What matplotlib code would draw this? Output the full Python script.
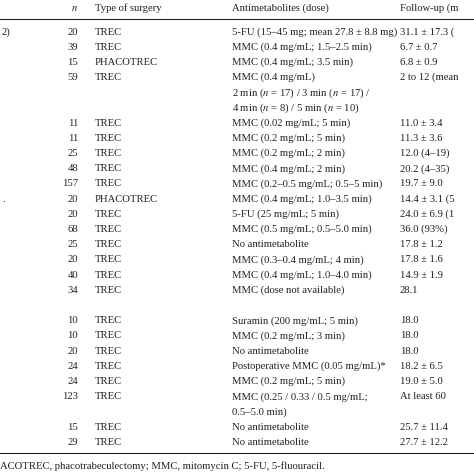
import matplotlib
matplotlib.use("Agg")
import matplotlib.pyplot as plt

# table content (cropped view of a published table)
lead = ["2)", "", "", "", "", "", "", "", "", "", "", ".", "", "", "", "", "", "", "",
        "", "", "", "", "", "", "", "", ""]
n_vals = ["20", "39", "15", "59", "", "", "11", "11", "25", "48", "157", "20", "20", "68",
          "25", "20", "40", "34", "", "10", "10", "20", "24", "24", "123", "", "15", "29"]
surgery = ["TREC", "TREC", "PHACOTREC", "TREC", "", "", "TREC", "TREC", "TREC", "TREC",
           "TREC", "PHACOTREC", "TREC", "TREC", "TREC", "TREC", "TREC", "TREC", "",
           "TREC", "TREC", "TREC", "TREC", "TREC", "TREC", "", "TREC", "TREC"]
antimet = ["5-FU (15\u201345 mg; mean 27.8 \u00b1 8.8 mg)",
           "MMC (0.4 mg/mL; 1.5\u20132.5 min)",
           "MMC (0.4 mg/mL; 3.5 min)",
           "MMC (0.4 mg/mL)",
           "2 min ($n$ = 17) / 3 min ($n$ = 17) /",
           "4 min ($n$ = 8) / 5 min ($n$ = 10)",
           "MMC (0.02 mg/mL; 5 min)",
           "MMC (0.2 mg/mL; 5 min)",
           "MMC (0.2 mg/mL; 2 min)",
           "MMC (0.4 mg/mL; 2 min)",
           "MMC (0.2\u20130.5 mg/mL; 0.5\u20135 min)",
           "MMC (0.4 mg/mL; 1.0\u20133.5 min)",
           "5-FU (25 mg/mL; 5 min)",
           "MMC (0.5 mg/mL; 0.5\u20135.0 min)",
           "No antimetabolite",
           "MMC (0.3\u20130.4 mg/mL; 4 min)",
           "MMC (0.4 mg/mL; 1.0\u20134.0 min)",
           "MMC (dose not available)",
           "",
           "Suramin (200 mg/mL; 5 min)",
           "MMC (0.2 mg/mL; 3 min)",
           "No antimetabolite",
           "Postoperative MMC (0.05 mg/mL)*",
           "MMC (0.2 mg/mL; 5 min)",
           "MMC (0.25 / 0.33 / 0.5 mg/mL;",
           "0.5\u20135.0 min)",
           "No antimetabolite",
           "No antimetabolite"]
follow = ["31.1 \u00b1 17.3 (", "6.7 \u00b1 0.7", "6.8 \u00b1 0.9", "2 to 12 (mean", "", "",
          "11.0 \u00b1 3.4", "11.3 \u00b1 3.6", "12.0 (4\u201319)", "20.2 (4\u201335)",
          "19.7 \u00b1 9.0", "14.4 \u00b1 3.1 (5", "24.0 \u00b1 6.9 (1", "36.0 (93%)",
          "17.8 \u00b1 1.2", "17.8 \u00b1 1.6", "14.9 \u00b1 1.9", "28.1", "",
          "18.0", "18.0", "18.0", "18.2 \u00b1 6.5", "19.0 \u00b1 5.0", "At least 60", "",
          "25.7 \u00b1 11.4", "27.7 \u00b1 12.2"]
footer = "ACOTREC, phacotrabeculectomy; MMC, mitomycin C; 5-FU, 5-fluouracil."

plt.rcParams["font.family"] = ["Liberation Serif", "DejaVu Serif"]
plt.rcParams["mathtext.fontset"] = "stix"
fig = plt.figure(figsize=(4.74, 4.74), dpi=100)
ax = fig.add_axes([0, 0, 1, 1])
ax.set_xlim(0, 474)
ax.set_ylim(474, 0)
ax.axis("off")

fs = 7.7
col = "#222222"
ax.text(78, 8, "$n$", ha="right", va="center", fontsize=fs, color=col)
ax.text(95, 8, "Type of surgery", va="center", fontsize=fs, color=col)
ax.text(232, 8, "Antimetabolites (dose)", va="center", fontsize=fs, color=col)
ax.text(400, 8, "Follow-up (m", va="center", fontsize=fs, color=col)
ax.plot([0, 474], [19, 19], color=col, lw=0.8)

y0, dy = 32, 15.2
for i in range(len(n_vals)):
    y = y0 + i * dy
    ax.text(2, y, lead[i], va="center", fontsize=fs, color=col)
    ax.text(78, y, n_vals[i], ha="right", va="center", fontsize=fs, color=col)
    ax.text(95, y, surgery[i], va="center", fontsize=fs, color=col)
    ax.text(232, y, antimet[i], va="center", fontsize=fs, color=col)
    ax.text(400, y, follow[i], va="center", fontsize=fs, color=col)

ax.plot([0, 474], [453, 453], color=col, lw=0.8)
ax.text(0, 466, footer, va="center", fontsize=fs, color=col)

fig.savefig("out.png", dpi=100)
